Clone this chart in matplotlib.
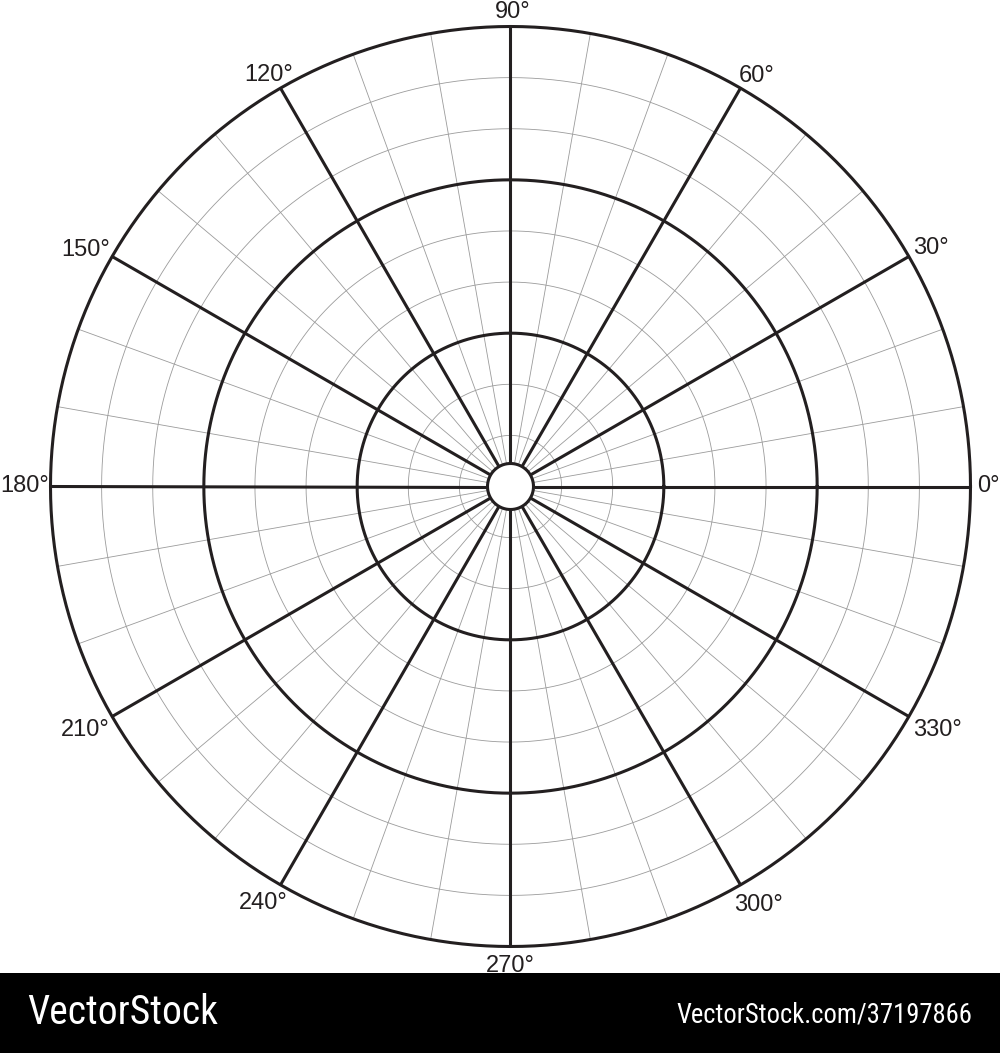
import numpy as np
import matplotlib
matplotlib.use("Agg")
import matplotlib.pyplot as plt
from matplotlib.patches import Rectangle

# ---- data ----
label_angles = [0, 30, 60, 90, 120, 150, 180, 210, 240, 270, 300, 330]
label_texts = ["0°", "30°", "60°", "90°", "120°", "150°", "180°",
               "210°", "240°", "270°", "300°", "330°"]
major_spokes = list(range(0, 360, 30))
minor_spokes = [a for a in range(0, 360, 10) if a % 30 != 0]
major_rings = [3, 6, 9]
minor_rings = [1, 2, 4, 5, 7, 8]
hole_radius = 0.45
outer_radius = 9

# label placement (alignment and pixel offsets from the outer-circle point)
label_ha = ["left", "left", "left", "center", "right", "right", "right",
            "right", "right", "center", "left", "left"]
label_va = ["center", "baseline", "baseline", "baseline", "baseline", "baseline",
            "center", "top", "top", "top", "top", "top"]
label_dx = [7, 4, -2, 2, 12, -2, -2, -3, 7, 0, -6, 4]
label_dy = [0, 2, 6, 9, 7, 1, 0, -3, -7, -8, -9, -2]

W, H = 1000, 1053
fig = plt.figure(figsize=(W / 100, H / 100), dpi=100)
fig.patch.set_facecolor("white")

cx, cy, Rpx = 510.5, 486.5, 460.0
rmax = 9.2
Rax = Rpx * rmax / outer_radius
ax = fig.add_axes([(cx - Rax) / W, (H - cy - Rax) / H, 2 * Rax / W, 2 * Rax / H],
                  projection="polar")
ax.set_ylim(0, rmax)
ax.axis("off")

dark = "#231f20"
grey = "#9b9b9b"
thick = 2.2
thin = 0.6

tt = np.linspace(0, 2 * np.pi, 721)
for r in minor_rings:
    ax.plot(tt, np.full_like(tt, r), color=grey, lw=thin, zorder=1)
for a in minor_spokes:
    th = np.deg2rad(a)
    ax.plot([th, th], [hole_radius, outer_radius], color=grey, lw=thin, zorder=1)
for r in major_rings:
    ax.plot(tt, np.full_like(tt, r), color=dark, lw=thick, zorder=3)
for a in major_spokes:
    th = np.deg2rad(a)
    ax.plot([th, th], [hole_radius, outer_radius], color=dark, lw=thick, zorder=3,
            solid_capstyle="butt")

ax.fill(tt, np.full_like(tt, hole_radius), color="white", zorder=4)
ax.plot(tt, np.full_like(tt, hole_radius), color=dark, lw=thick, zorder=5)

for a, t, ha, va, dx, dy in zip(label_angles, label_texts, label_ha, label_va,
                                label_dx, label_dy):
    ax.annotate(t, xy=(np.deg2rad(a), outer_radius), xycoords="data",
                xytext=(dx, dy), textcoords="offset pixels",
                ha=ha, va=va, fontsize=17, color=dark,
                family=["Liberation Sans", "DejaVu Sans"],
                annotation_clip=False, zorder=6)

# bottom watermark band
band_h = 80
fig.patches.append(Rectangle((0, 0), 1, band_h / H, transform=fig.transFigure,
                             facecolor="black", edgecolor="none", zorder=10))
wm_family = ["Roboto Condensed", "Liberation Sans Narrow", "Liberation Sans", "DejaVu Sans"]
fig.text(27 / W, (H - 1013) / H, "VectorStock", color="white", fontsize=28.5,
         family=wm_family, ha="left", va="center", zorder=11)
fig.text(972 / W, (H - 1015) / H, "VectorStock.com/37197866", color="white",
         fontsize=19.2, family=wm_family, ha="right", va="center", zorder=11)

fig.savefig("out.png", dpi=100, facecolor="white")
